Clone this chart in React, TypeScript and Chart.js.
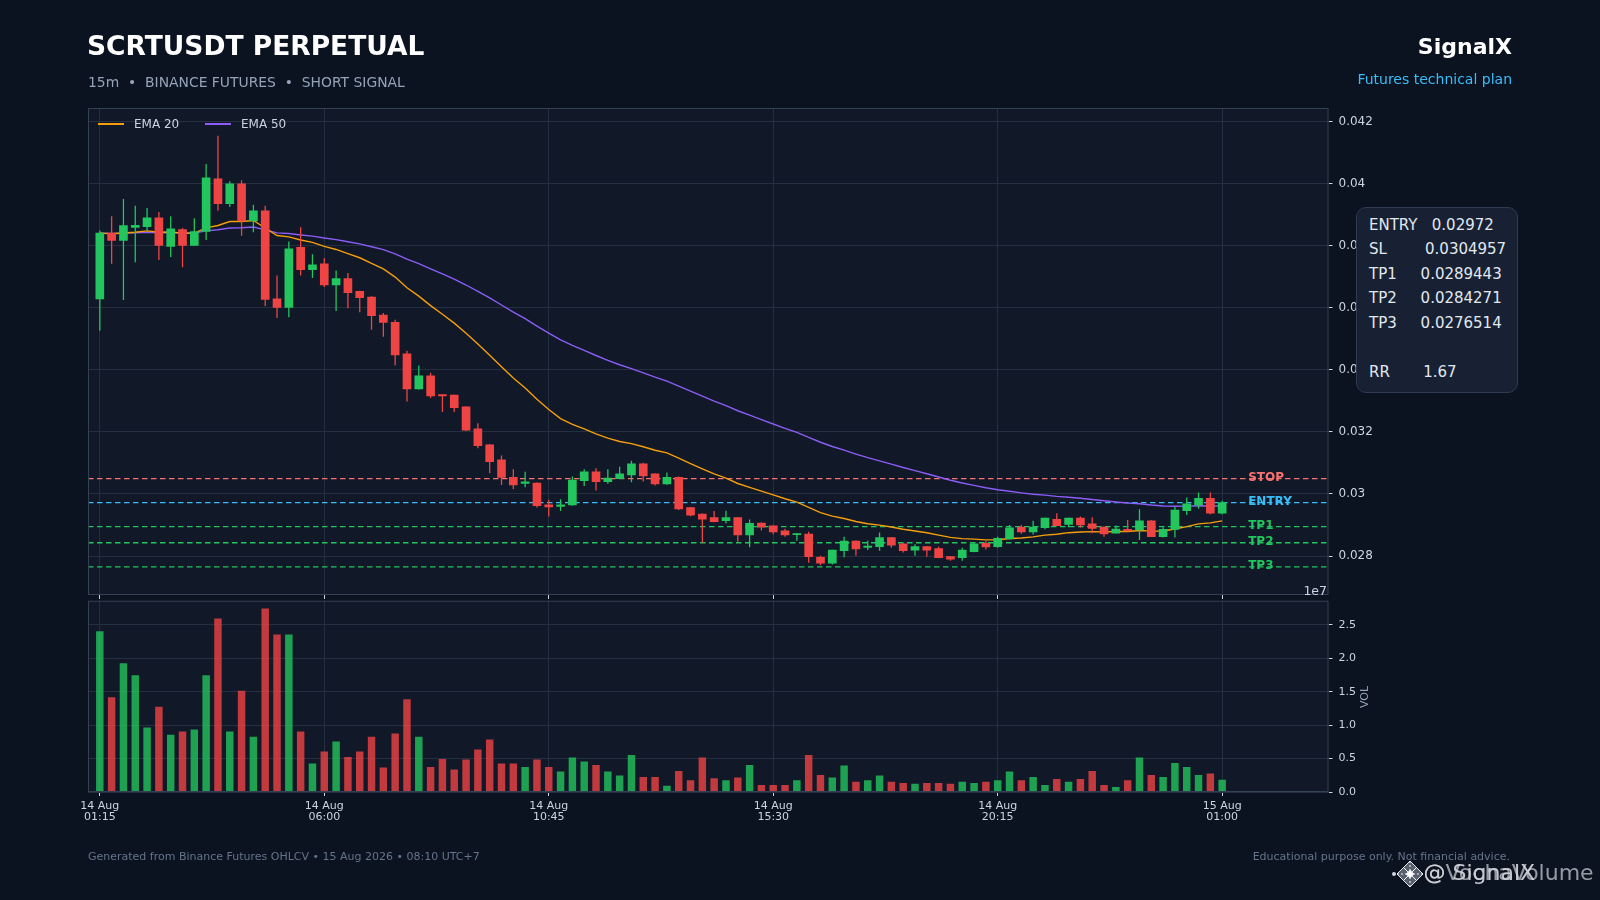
import React, { useEffect, useRef } from "react";
import { Chart, registerables } from "chart.js";

Chart.register(...registerables);

const FONT = "'DejaVu Sans', 'Liberation Sans', sans-serif";
Chart.defaults.font.family = FONT;

// ---------------- data ----------------
const OPEN = [
  0.03629, 0.03841, 0.03817, 0.03859, 0.03862, 0.0389, 0.03798, 0.03852, 0.03801, 0.03846,
  0.04016, 0.03936, 0.04, 0.0388, 0.03913, 0.03629, 0.03601, 0.03795, 0.03723, 0.03742,
  0.03674, 0.03694, 0.03653, 0.03635, 0.03577, 0.03553, 0.03452, 0.03339, 0.03381, 0.0332,
  0.03319, 0.03281, 0.0321, 0.03158, 0.0311, 0.03054, 0.03034, 0.03035, 0.02965, 0.0296,
  0.02965, 0.03043, 0.03071, 0.0304, 0.03049, 0.03061, 0.03097, 0.03065, 0.03032, 0.03054,
  0.02956, 0.02935, 0.02924, 0.02914, 0.02924, 0.02868, 0.02906, 0.02897, 0.02881, 0.02869,
  0.02871, 0.02796, 0.02777, 0.02817, 0.02848, 0.02828, 0.0283, 0.02859, 0.02839, 0.02819,
  0.0283, 0.02824, 0.02798, 0.02795, 0.02814, 0.02841, 0.0283, 0.02855, 0.02893, 0.02878,
  0.02891, 0.02918, 0.02902, 0.02922, 0.02904, 0.02893, 0.02874, 0.02886, 0.02884, 0.02913,
  0.02862, 0.02886, 0.02946, 0.02965, 0.02986, 0.02938,
];
const HIGH = [
  0.03849, 0.03895, 0.03951, 0.03929, 0.03922, 0.03909, 0.03895, 0.03857, 0.03889, 0.04064,
  0.04155, 0.04008, 0.04011, 0.03932, 0.03929, 0.03704, 0.03814, 0.0386, 0.03773, 0.0376,
  0.0372, 0.03712, 0.03655, 0.03637, 0.03583, 0.03562, 0.03462, 0.03414, 0.03391, 0.03321,
  0.0332, 0.03283, 0.03228, 0.03161, 0.03124, 0.0308, 0.03072, 0.03037, 0.02981, 0.02983,
  0.03056, 0.0308, 0.03083, 0.0308, 0.03088, 0.03107, 0.03101, 0.03066, 0.03069, 0.03056,
  0.02958, 0.02937, 0.02945, 0.02946, 0.02926, 0.02918, 0.02908, 0.02899, 0.02888, 0.02873,
  0.02878, 0.02801, 0.0282, 0.02862, 0.0285, 0.02849, 0.02876, 0.02861, 0.02841, 0.02838,
  0.02832, 0.0283, 0.02799, 0.02827, 0.02841, 0.02848, 0.02862, 0.029, 0.029, 0.02914,
  0.02923, 0.02938, 0.02923, 0.02927, 0.02925, 0.02894, 0.02898, 0.02916, 0.02951, 0.02915,
  0.02893, 0.02959, 0.02989, 0.03005, 0.03005, 0.02978,
];
const LOW = [
  0.03526, 0.03742, 0.03625, 0.03747, 0.03849, 0.03754, 0.03764, 0.03731, 0.03801, 0.03819,
  0.03913, 0.03925, 0.03832, 0.03844, 0.03606, 0.03567, 0.0357, 0.03704, 0.03696, 0.03667,
  0.0359, 0.03599, 0.03586, 0.03529, 0.03507, 0.03415, 0.03298, 0.03337, 0.03309, 0.03264,
  0.03264, 0.03203, 0.03147, 0.03067, 0.03029, 0.03015, 0.03022, 0.02956, 0.02927, 0.02945,
  0.02962, 0.03026, 0.03011, 0.03033, 0.03048, 0.03038, 0.0304, 0.03027, 0.0303, 0.02948,
  0.02928, 0.02843, 0.02909, 0.02905, 0.02846, 0.02828, 0.02882, 0.0287, 0.02862, 0.02849,
  0.02778, 0.0277, 0.02773, 0.02796, 0.02801, 0.02819, 0.02817, 0.02827, 0.02811, 0.02801,
  0.02798, 0.02794, 0.02785, 0.02785, 0.02812, 0.02821, 0.02827, 0.02854, 0.02872, 0.02869,
  0.02886, 0.02897, 0.02893, 0.02892, 0.02873, 0.02862, 0.02873, 0.0288, 0.02852, 0.02861,
  0.0286, 0.0286, 0.02932, 0.02952, 0.02935, 0.02935,
];
const CLOSE = [
  0.03841, 0.03817, 0.03865, 0.03866, 0.0389, 0.03801, 0.03855, 0.03801, 0.03846, 0.04019,
  0.03936, 0.04, 0.0388, 0.03913, 0.03627, 0.03601, 0.0379, 0.03723, 0.03739, 0.03674,
  0.03694, 0.03649, 0.03633, 0.03575, 0.03553, 0.03448, 0.03339, 0.03381, 0.03316, 0.03316,
  0.03278, 0.03206, 0.03156, 0.03104, 0.03053, 0.03029, 0.03039, 0.02962, 0.02958, 0.02965,
  0.03045, 0.03071, 0.0304, 0.03051, 0.03065, 0.03097, 0.03058, 0.03032, 0.03054, 0.02952,
  0.02932, 0.02919, 0.02911, 0.02924, 0.02868, 0.02905, 0.02893, 0.02878, 0.02868, 0.02872,
  0.02798, 0.02777, 0.02819, 0.02848, 0.02823, 0.02832, 0.02859, 0.02835, 0.02817, 0.0283,
  0.02819, 0.02795, 0.0279, 0.02819, 0.02839, 0.02829, 0.02857, 0.02891, 0.02878, 0.02893,
  0.02922, 0.02898, 0.02922, 0.029, 0.02889, 0.02871, 0.02887, 0.02881, 0.02913, 0.02862,
  0.02886, 0.02948, 0.02968, 0.02986, 0.02938, 0.02972,
];
const VOLUME = [
  2.4e7, 1.41e7, 1.92e7, 1.74e7, 0.96e7, 1.27e7, 0.85e7, 0.9e7, 0.93e7, 1.74e7,
  2.59e7, 0.9e7, 1.51e7, 0.82e7, 2.74e7, 2.35e7, 2.35e7, 0.9e7, 0.42e7, 0.6e7,
  0.75e7, 0.52e7, 0.6e7, 0.82e7, 0.36e7, 0.87e7, 1.38e7, 0.82e7, 0.37e7, 0.49e7,
  0.33e7, 0.48e7, 0.63e7, 0.78e7, 0.42e7, 0.42e7, 0.37e7, 0.48e7, 0.37e7, 0.3e7,
  0.51e7, 0.45e7, 0.4e7, 0.3e7, 0.24e7, 0.55e7, 0.22e7, 0.22e7, 0.09e7, 0.31e7,
  0.17e7, 0.51e7, 0.2e7, 0.17e7, 0.21e7, 0.4e7, 0.1e7, 0.1e7, 0.1e7, 0.17e7,
  0.55e7, 0.25e7, 0.21e7, 0.39e7, 0.15e7, 0.17e7, 0.24e7, 0.15e7, 0.13e7, 0.12e7,
  0.13e7, 0.13e7, 0.12e7, 0.15e7, 0.13e7, 0.15e7, 0.17e7, 0.3e7, 0.17e7, 0.22e7,
  0.1e7, 0.19e7, 0.15e7, 0.19e7, 0.31e7, 0.1e7, 0.07e7, 0.17e7, 0.51e7, 0.25e7,
  0.22e7, 0.43e7, 0.37e7, 0.25e7, 0.27e7, 0.18e7,
];
const EMA20 = [
  0.03841, 0.038387, 0.038412, 0.038436, 0.03848, 0.038435, 0.038446, 0.038405, 0.03841, 0.038579,
  0.038654, 0.038782, 0.038784, 0.038817, 0.038574, 0.03833, 0.038289, 0.038188, 0.038112, 0.037982,
  0.037882, 0.03775, 0.037614, 0.037437, 0.037255, 0.036991, 0.036648, 0.036378, 0.036071, 0.035794,
  0.035507, 0.035179, 0.034834, 0.034473, 0.034097, 0.033735, 0.033416, 0.033055, 0.032724, 0.032431,
  0.032242, 0.032096, 0.031935, 0.031799, 0.03169, 0.031621, 0.031522, 0.031408, 0.031325, 0.031153,
  0.030978, 0.030808, 0.030646, 0.030512, 0.030338, 0.030215, 0.030093, 0.029968, 0.029845, 0.029738,
  0.029571, 0.029399, 0.029284, 0.029208, 0.029114, 0.029039, 0.028996, 0.028934, 0.028862, 0.028808,
  0.028749, 0.028673, 0.0286, 0.028561, 0.028544, 0.02852, 0.028525, 0.028562, 0.028582, 0.028616,
  0.028673, 0.028702, 0.028752, 0.028775, 0.028786, 0.028779, 0.028788, 0.02879, 0.028822, 0.028803,
  0.028808, 0.028872, 0.028949, 0.029036, 0.029069, 0.029131,
];
const EMA50 = [
  0.03841, 0.038401, 0.03841, 0.03842, 0.038439, 0.038422, 0.038427, 0.038411, 0.038413, 0.038482,
  0.038517, 0.038575, 0.038584, 0.038605, 0.038514, 0.038415, 0.038395, 0.03835, 0.038312, 0.03825,
  0.038199, 0.038132, 0.038061, 0.037971, 0.037875, 0.037742, 0.037571, 0.037424, 0.037257, 0.037096,
  0.036927, 0.036736, 0.036533, 0.036318, 0.036091, 0.035863, 0.035649, 0.035412, 0.035184, 0.034967,
  0.03479, 0.03463, 0.034464, 0.034309, 0.034165, 0.03404, 0.033904, 0.033764, 0.033637, 0.033476,
  0.033313, 0.033151, 0.032993, 0.032845, 0.032682, 0.03254, 0.032398, 0.032256, 0.032116, 0.031983,
  0.031826, 0.031667, 0.03153, 0.031411, 0.031286, 0.03117, 0.031068, 0.030962, 0.030852, 0.030752,
  0.030652, 0.030546, 0.030442, 0.030354, 0.030277, 0.030199, 0.030135, 0.030087, 0.030036, 0.029992,
  0.029962, 0.029923, 0.029896, 0.02986, 0.029822, 0.029779, 0.029743, 0.029707, 0.029684, 0.029642,
  0.029612, 0.029606, 0.029609, 0.029619, 0.02961, 0.029614,
];

const X_TICK_INDEX = [0, 19, 38, 57, 76, 95];
const X_TICK_LABELS = [
  ["14 Aug", "01:15"],
  ["14 Aug", "06:00"],
  ["14 Aug", "10:45"],
  ["14 Aug", "15:30"],
  ["14 Aug", "20:15"],
  ["15 Aug", "01:00"],
];
const PRICE_TICKS = [0.028, 0.03, 0.032, 0.034, 0.036, 0.038, 0.04, 0.042];
const PRICE_TICK_LABELS = ["0.028", "0.03", "0.032", "0.034", "0.036", "0.038", "0.04", "0.042"];
const VOLUME_TICKS = [0, 0.5e7, 1e7, 1.5e7, 2e7, 2.5e7];
const VOLUME_TICK_LABELS = ["0.0", "0.5", "1.0", "1.5", "2.0", "2.5"];

const LEVEL_NAMES = ["STOP", "ENTRY", "TP1", "TP2", "TP3"];
const LEVEL_VALUES = [0.0304957, 0.02972, 0.0289443, 0.0284271, 0.0276514];
const RR = 1.67;

// ---------------- style ----------------
const PAGE_BG = "#0b1220";
const PANEL_BG = "#111827";
const GRID = "#243042";
const SPINE = "#334155";
const TICK_TEXT = "#cbd5e1";
const UP = "#22c55e";
const DOWN = "#ef4444";
const UP_VOL = "rgba(34,197,94,0.8)";
const DOWN_VOL = "rgba(239,68,68,0.8)";
const EMA20_COLOR = "#f59e0b";
const EMA50_COLOR = "#8b5cf6";
const LEVEL_COLORS = ["#f87171", "#38bdf8", "#22c55e", "#22c55e", "#22c55e"];

const X_MIN = -1;
const X_MAX = 104;
const PRICE_MIN = 0.026743;
const PRICE_MAX = 0.042442;
const VOLUME_MAX = 2.86e7;
const LEVEL_LABEL_X = 97.2;

const panelPlugin = {
  id: "panelFrame",
  beforeDraw(chart: any) {
    const { ctx, chartArea: a } = chart;
    ctx.save();
    ctx.fillStyle = PANEL_BG;
    ctx.fillRect(a.left, a.top, a.right - a.left, a.bottom - a.top);
    ctx.restore();
  },
  afterDraw(chart: any) {
    const { ctx, chartArea: a } = chart;
    ctx.save();
    ctx.strokeStyle = SPINE;
    ctx.lineWidth = 1;
    ctx.strokeRect(a.left + 0.5, a.top + 0.5, a.right - a.left - 1, a.bottom - a.top - 1);
    ctx.restore();
  },
};

const levelLabelPlugin = {
  id: "levelLabels",
  afterDatasetsDraw(chart: any) {
    const { ctx, scales } = chart;
    ctx.save();
    ctx.font = `bold 12px ${FONT}`;
    ctx.textAlign = "left";
    ctx.textBaseline = "middle";
    LEVEL_VALUES.forEach((v, k) => {
      ctx.fillStyle = LEVEL_COLORS[k];
      ctx.fillText(LEVEL_NAMES[k], scales.x.getPixelForValue(LEVEL_LABEL_X), scales.y.getPixelForValue(v) - 1);
    });
    ctx.restore();
  },
};

function xAxis(showLabels: boolean, height: number) {
  return {
    type: "linear",
    min: X_MIN,
    max: X_MAX,
    offset: false,
    afterBuildTicks: (s: any) => {
      s.ticks = X_TICK_INDEX.map((v) => ({ value: v }));
    },
    afterFit: (s: any) => {
      s.height = height;
    },
    grid: { color: GRID, tickColor: TICK_TEXT, tickLength: 4, offset: false, drawTicks: true },
    border: { display: false },
    ticks: showLabels
      ? {
          display: true,
          color: TICK_TEXT,
          font: { size: 11, lineHeight: 0.98 },
          padding: 5,
          maxRotation: 0,
          autoSkip: false,
          callback: (_v: any, i: number) => X_TICK_LABELS[i],
        }
      : { display: false },
  };
}

export default function App() {
  const priceRef = useRef<HTMLCanvasElement>(null);
  const volRef = useRef<HTMLCanvasElement>(null);

  useEffect(() => {
    document.body.style.margin = "0";
    document.body.style.background = PAGE_BG;
    const idx = CLOSE.map((_, i) => i);
    const isUp = idx.map((i) => CLOSE[i] >= OPEN[i]);

    const priceChart = new Chart(priceRef.current as HTMLCanvasElement, {
      type: "bar",
      data: {
        datasets: [
          {
            type: "bar",
            label: "body",
            data: idx.map((i) => ({ x: i, y: [OPEN[i], CLOSE[i]] })),
            backgroundColor: isUp.map((u) => (u ? UP : DOWN)),
            borderWidth: 0,
            barThickness: 8,
            grouped: false,
            order: 0,
          },
          {
            type: "bar",
            label: "wick",
            data: idx.map((i) => ({ x: i, y: [LOW[i], HIGH[i]] })),
            backgroundColor: isUp.map((u) => (u ? UP : DOWN)),
            borderWidth: 0,
            barThickness: 1.3,
            inflateAmount: 0,
            grouped: false,
            order: 1,
          },
          {
            type: "line",
            label: "EMA 20",
            data: idx.map((i) => ({ x: i, y: EMA20[i] })),
            borderColor: EMA20_COLOR,
            borderWidth: 1.4,
            pointRadius: 0,
            tension: 0,
            order: 2,
          },
          {
            type: "line",
            label: "EMA 50",
            data: idx.map((i) => ({ x: i, y: EMA50[i] })),
            borderColor: EMA50_COLOR,
            borderWidth: 1.4,
            pointRadius: 0,
            tension: 0,
            order: 3,
          },
          ...LEVEL_VALUES.map((v, k) => ({
            type: "line",
            label: LEVEL_NAMES[k],
            data: [
              { x: X_MIN, y: v },
              { x: X_MAX, y: v },
            ],
            borderColor: LEVEL_COLORS[k],
            borderWidth: 1.3,
            borderDash: [5.5, 3.5],
            pointRadius: 0,
            order: 4,
          })),
        ] as any,
      },
      options: {
        animation: false,
        responsive: false,
        maintainAspectRatio: false,
        events: [],
        layout: { padding: { left: 88, top: 108, right: 211.5, bottom: 20 } },
        plugins: { legend: { display: false }, tooltip: { enabled: false } },
        scales: {
          x: xAxis(false, 5) as any,
          y: {
            position: "right",
            min: PRICE_MIN,
            max: PRICE_MAX,
            beginAtZero: false,
            afterBuildTicks: (s: any) => {
              s.ticks = PRICE_TICKS.map((v) => ({ value: v }));
            },
            afterFit: (s: any) => {
              s.width = 60;
            },
            grid: { color: GRID, tickColor: TICK_TEXT, tickLength: 4 },
            border: { display: false },
            ticks: {
              color: TICK_TEXT,
              font: { size: 12 },
              padding: 6,
              callback: (_v: any, i: number) => PRICE_TICK_LABELS[i],
            },
          } as any,
        },
      },
      plugins: [panelPlugin, levelLabelPlugin],
    });

    const volumeChart = new Chart(volRef.current as HTMLCanvasElement, {
      type: "bar",
      data: {
        datasets: [
          {
            label: "VOL",
            data: idx.map((i) => ({ x: i, y: VOLUME[i] })),
            backgroundColor: isUp.map((u) => (u ? UP_VOL : DOWN_VOL)),
            borderWidth: 0,
            barThickness: 6.8,
            grouped: false,
          },
        ] as any,
      },
      options: {
        animation: false,
        responsive: false,
        maintainAspectRatio: false,
        events: [],
        layout: { padding: { left: 88, top: 30.7, right: 211.5, bottom: 68 } },
        plugins: { legend: { display: false }, tooltip: { enabled: false } },
        scales: {
          x: xAxis(true, 40) as any,
          y: {
            position: "right",
            min: 0,
            max: VOLUME_MAX,
            afterBuildTicks: (s: any) => {
              s.ticks = VOLUME_TICKS.map((v) => ({ value: v }));
            },
            afterFit: (s: any) => {
              s.width = 60;
            },
            grid: { color: GRID, tickColor: TICK_TEXT, tickLength: 4 },
            border: { display: false },
            ticks: {
              color: TICK_TEXT,
              font: { size: 11 },
              padding: 6,
              callback: (_v: any, i: number) => VOLUME_TICK_LABELS[i],
            },
          } as any,
        },
      },
      plugins: [panelPlugin],
    });

    return () => {
      priceChart.destroy();
      volumeChart.destroy();
    };
  }, []);

  const boxLines = [
    `ENTRY   ${LEVEL_VALUES[1]}`,
    `SL        ${LEVEL_VALUES[0]}`,
    `TP1     ${LEVEL_VALUES[2]}`,
    `TP2     ${LEVEL_VALUES[3]}`,
    `TP3     ${LEVEL_VALUES[4]}`,
    ``,
    `RR       ${RR}`,
  ].join("\n");

  const abs = (s: React.CSSProperties): React.CSSProperties => ({ position: "absolute", whiteSpace: "nowrap", ...s });

  return (
    <div
      style={{
        position: "fixed",
        left: 0,
        top: 0,
        width: 1600,
        height: 900,
        background: PAGE_BG,
        overflow: "hidden",
        fontFamily: FONT,
      }}
    >
      <canvas ref={priceRef} width={1600} height={620} style={{ position: "absolute", left: 0, top: 0, width: 1600, height: 620 }} />
      <canvas ref={volRef} width={1600} height={330} style={{ position: "absolute", left: 0, top: 570, width: 1600, height: 330 }} />

      {/* header */}
      <div style={abs({ left: 87, top: 33, fontSize: 26.5, lineHeight: "26.5px", fontWeight: "bold", color: "#ffffff" })}>
        SCRTUSDT PERPETUAL
      </div>
      <div style={abs({ left: 88, top: 75, fontSize: 13.9, lineHeight: "14px", color: "#94a3b8" })}>
        15m&nbsp;&nbsp;•&nbsp;&nbsp;BINANCE FUTURES&nbsp;&nbsp;•&nbsp;&nbsp;SHORT SIGNAL
      </div>
      <div style={abs({ right: 88, top: 36, fontSize: 22, lineHeight: "22px", fontWeight: "bold", color: "#ffffff" })}>SignalX</div>
      <div style={abs({ right: 88, top: 72, fontSize: 14, lineHeight: "14px", color: "#38bdf8" })}>Futures technical plan</div>

      {/* legend */}
      <div style={abs({ left: 98, top: 123.3, width: 26, height: 2, background: EMA20_COLOR })} />
      <div style={abs({ left: 134, top: 118, fontSize: 12, lineHeight: "12px", color: TICK_TEXT })}>EMA 20</div>
      <div style={abs({ left: 205, top: 123.3, width: 26, height: 2, background: EMA50_COLOR })} />
      <div style={abs({ left: 241, top: 118, fontSize: 12, lineHeight: "12px", color: TICK_TEXT })}>EMA 50</div>

      {/* info box */}
      <div
        style={abs({
          left: 1356,
          top: 207,
          width: 162,
          height: 186,
          boxSizing: "border-box",
          background: "#172133",
          border: "1px solid #2e3b50",
          borderRadius: 10,
          padding: "4.7px 0 0 12px",
          fontSize: 15,
          lineHeight: "24.6px",
          color: "#e2e8f0",
          whiteSpace: "pre",
        })}
      >
        {boxLines}
      </div>

      {/* volume axis extras */}
      <div style={abs({ right: 273, top: 584.5, fontSize: 12.5, lineHeight: "12.5px", color: TICK_TEXT })}>1e7</div>
      <div
        style={abs({
          left: 1364.3,
          top: 696.7,
          fontSize: 11,
          lineHeight: "11px",
          color: "#94a3b8",
          transform: "translate(-50%, -50%) rotate(-90deg)",
        })}
      >
        VOL
      </div>

      {/* footer */}
      <div style={abs({ left: 88, top: 850.5, fontSize: 11, lineHeight: "11px", color: "#64748b" })}>
        Generated from Binance Futures OHLCV • 15 Aug 2026 • 08:10 UTC+7
      </div>
      <div style={abs({ right: 90, top: 850.5, fontSize: 11, lineHeight: "11px", color: "#64748b" })}>
        Educational purpose only. Not financial advice.
      </div>

      {/* watermark */}
      <svg style={{ position: "absolute", left: 1390, top: 860 }} width={36} height={28} viewBox="0 0 36 28">
        <circle cx={4} cy={14} r={2} fill="#d1d5db" />
        <polygon points="20,1 33,14 20,27 7,14" fill="#9ca3af" fillOpacity={0.55} stroke="#e5e7eb" strokeWidth={1} />
        <line x1={13.5} y1={7.5} x2={26.5} y2={20.5} stroke="#f3f4f6" strokeWidth={1} />
        <line x1={26.5} y1={7.5} x2={13.5} y2={20.5} stroke="#f3f4f6" strokeWidth={1} />
        <line x1={7} y1={14} x2={33} y2={14} stroke="#f3f4f6" strokeWidth={1} strokeDasharray="2 2" />
        <line x1={20} y1={1} x2={20} y2={27} stroke="#f3f4f6" strokeWidth={1} strokeDasharray="2 2" />
        <rect x={17} y={11} width={6} height={6} fill="#ffffff" transform="rotate(45 20 14)" />
      </svg>
      <div style={abs({ left: 1423.5, top: 862, fontSize: 22, lineHeight: "22px", color: "#e5e7eb", opacity: 0.85 })}>@ SignalX</div>
      <div style={abs({ left: 1423.5, top: 862, fontSize: 22, lineHeight: "22px", color: "#d1d5db", opacity: 0.7 })}>@VochaVolume</div>
    </div>
  );
}
